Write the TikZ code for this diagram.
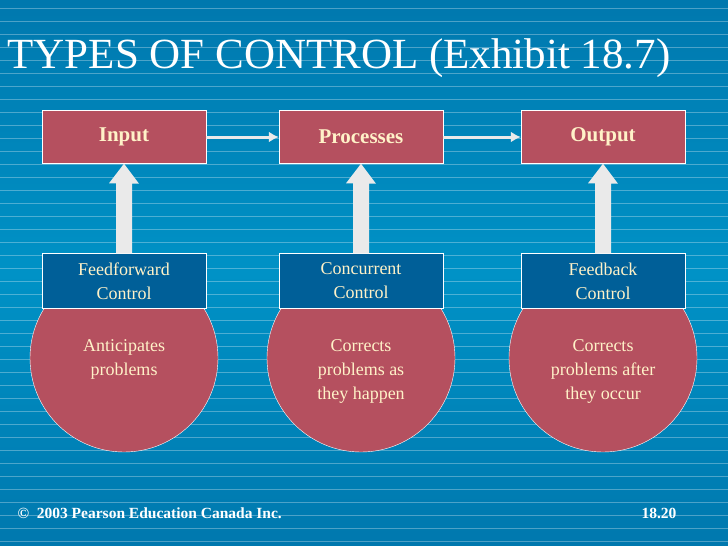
\documentclass[tikz,border=0pt]{standalone}
\usepackage{fontspec}
\setmainfont{Liberation Serif}
\usetikzlibrary{arrows.meta}
\definecolor{bgA}{HTML}{0092C6}
\definecolor{bgB}{HTML}{0078AE}
\definecolor{redbox}{HTML}{B5505F}
\definecolor{darkbox}{HTML}{005F98}
\definecolor{cream}{HTML}{FFF2C8}
\definecolor{arr}{HTML}{EAEAEA}
\begin{document}
\begin{tikzpicture}[x=1pt,y=-1pt,
  topbox/.style={draw=white,fill=redbox,minimum width=164pt,minimum height=53pt,text=cream,font=\fontsize{21}{24}\selectfont\bfseries},
  ctlbox/.style={draw=white,fill=darkbox,minimum width=164pt,minimum height=55pt,text=cream,align=center,font=\fontsize{18}{24}\selectfont},
  circ/.style={draw=white,fill=redbox,circle,minimum size=188pt},
  ctext/.style={text=cream,align=center,font=\fontsize{18}{24}\selectfont}]
\shade[top color=bgB,bottom color=bgB,middle color=bgA] (0,0) rectangle (728,546);
\useasboundingbox (0,0) rectangle (728,546);
\foreach \y in {8,21,...,546} \draw[white,opacity=0.3,line width=0.8pt] (0,\y) -- (728,\y);
\node[anchor=west,text=white,font=\fontsize{43}{48}\selectfont] (title) at (4,58) {TYPES OF CONTROL (Exhibit 18.7)};
\foreach \n/\x/\t/\a/\b/\c/\d/\e in {i/124/Input/Feedforward/Control/Anticipates/problems/,p/361/Processes/Concurrent/Control/Corrects/problems as/they happen,o/603/Output/Feedback/Control/Corrects/problems after/they occur}{
  \node[circ] (c\n) at (\x,358) {};
  \node[ctext,anchor=north] (t\n) at (\x,336) {\c\\\d\\\e};
  \node[ctlbox] (b\n) at (\x,281) {\a\\\b};
  \node[topbox] (\n) at (\x,137) {\t};
  \fill[arr] ([xshift=-8pt]b\n.north) -- ++(0,-70) -- ++(-7,0) -- (\n.south) -- ++(15,20) -- ++(-7,0) -- ([xshift=8pt]b\n.north) -- cycle;
}
\draw[arr,line width=3pt,-{Latex[length=10pt,width=11pt]}] (i.east) -- (p.west);
\draw[arr,line width=3pt,-{Latex[length=10pt,width=11pt]}] (p.east) -- (o.west);
\node[anchor=west,text=white,font=\fontsize{15.5}{18}\selectfont\bfseries] (foot) at (14,513) {\char"00A9\ \ 2003 Pearson Education Canada Inc.};
\node[anchor=east,text=white,font=\fontsize{15.5}{18}\selectfont\bfseries] (pg) at (680,513) {18.20};
\end{tikzpicture}
\end{document}
